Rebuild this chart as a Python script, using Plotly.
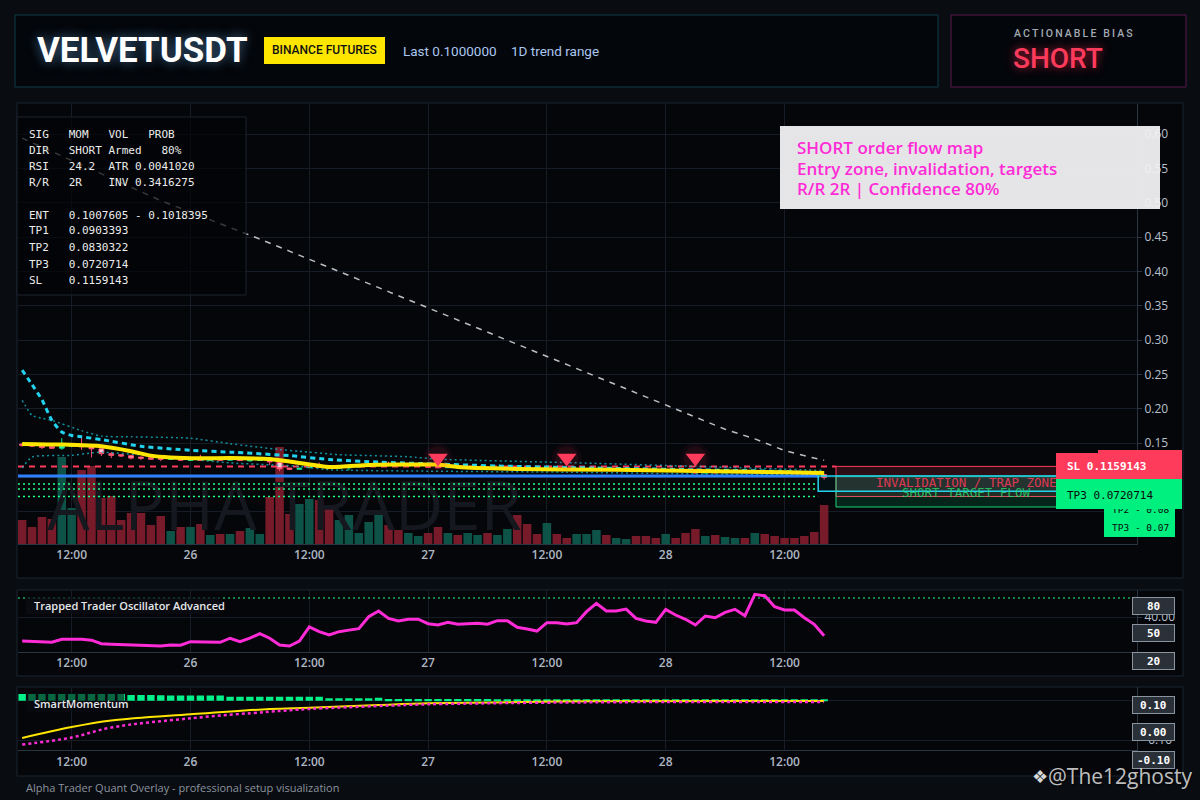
import plotly.graph_objects as go
import pandas as pd

W, H = 1200, 800
BASE = pd.Timestamp("2025-12-25 00:00")


def T(h):
    return BASE + pd.Timedelta(hours=h)


# ---------------- data ----------------
CANDLE_START = "2025-12-25 07:00"

opens = [
    0.1485, 0.1465, 0.1460, 0.1445, 0.1425, 0.1450, 0.1462, 0.1445, 0.1415, 0.1345,
    0.1330, 0.1315, 0.1295, 0.1285, 0.1280, 0.1262, 0.1272, 0.1248, 0.1262, 0.1250,
    0.1258, 0.1250, 0.1262, 0.1240, 0.1245, 0.1250, 0.1220, 0.1135, 0.1118, 0.1140,
    0.1165, 0.1150, 0.1130, 0.1138, 0.1150, 0.1165, 0.1175, 0.1195, 0.1180, 0.1165,
    0.1165, 0.1165, 0.1160, 0.1140, 0.1152, 0.1140, 0.1144, 0.1150, 0.1138, 0.1142,
    0.1150, 0.1130, 0.1120, 0.1110, 0.1125, 0.1118, 0.1110, 0.1112, 0.1115, 0.1122,
    0.1112, 0.1115, 0.1120, 0.1114, 0.1110, 0.1100, 0.1108, 0.1100, 0.1088, 0.1062,
    0.1074, 0.1064, 0.1068, 0.1075, 0.1066, 0.1074, 0.1068, 0.1064, 0.1060, 0.1056,
    0.1052, 0.1040]
highs = [
    0.1495, 0.1475, 0.1470, 0.1455, 0.1570, 0.1475, 0.1580, 0.1450, 0.1420, 0.1370,
    0.1340, 0.1330, 0.1300, 0.1290, 0.1290, 0.1280, 0.1280, 0.1265, 0.1330, 0.1262,
    0.1262, 0.1265, 0.1268, 0.1260, 0.1260, 0.1255, 0.1260, 0.1140, 0.1140, 0.1170,
    0.1215, 0.1160, 0.1150, 0.1170, 0.1170, 0.1185, 0.1196, 0.1230, 0.1185, 0.1180,
    0.1178, 0.1170, 0.1165, 0.1155, 0.1158, 0.1152, 0.1155, 0.1154, 0.1150, 0.1156,
    0.1160, 0.1135, 0.1125, 0.1130, 0.1130, 0.1122, 0.1122, 0.1124, 0.1128, 0.1126,
    0.1120, 0.1124, 0.1124, 0.1118, 0.1114, 0.1112, 0.1112, 0.1104, 0.1095, 0.1076,
    0.1078, 0.1076, 0.1078, 0.1078, 0.1078, 0.1078, 0.1072, 0.1068, 0.1063, 0.1060,
    0.1056, 0.1045]
lows = [
    0.1445, 0.1440, 0.1410, 0.1415, 0.1400, 0.1440, 0.1400, 0.1290, 0.1310, 0.1280,
    0.1295, 0.1260, 0.1250, 0.1255, 0.1235, 0.1255, 0.1240, 0.1240, 0.1245, 0.1245,
    0.1245, 0.1245, 0.1235, 0.1232, 0.1240, 0.1180, 0.1090, 0.1105, 0.1110, 0.1135,
    0.1145, 0.1120, 0.1125, 0.1100, 0.1145, 0.1160, 0.1170, 0.1170, 0.1160, 0.1160,
    0.1160, 0.1140, 0.1130, 0.1135, 0.1138, 0.1136, 0.1140, 0.1135, 0.1134, 0.1138,
    0.1095, 0.1105, 0.1108, 0.1105, 0.1110, 0.1108, 0.1106, 0.1108, 0.1110, 0.1110,
    0.1108, 0.1112, 0.1108, 0.1100, 0.1098, 0.1096, 0.1096, 0.1080, 0.1055, 0.1058,
    0.1060, 0.1060, 0.1064, 0.1064, 0.1062, 0.1062, 0.1058, 0.1055, 0.1050, 0.1046,
    0.1038, 0.0966]
closes = [
    0.1465, 0.1455, 0.1435, 0.1425, 0.1450, 0.1462, 0.1445, 0.1415, 0.1345, 0.1320,
    0.1310, 0.1280, 0.1278, 0.1265, 0.1262, 0.1272, 0.1248, 0.1258, 0.1250, 0.1258,
    0.1250, 0.1260, 0.1245, 0.1255, 0.1256, 0.1225, 0.1125, 0.1118, 0.1132, 0.1165,
    0.1150, 0.1140, 0.1145, 0.1150, 0.1165, 0.1180, 0.1192, 0.1180, 0.1168, 0.1175,
    0.1172, 0.1150, 0.1140, 0.1150, 0.1142, 0.1148, 0.1150, 0.1140, 0.1146, 0.1150,
    0.1128, 0.1115, 0.1112, 0.1125, 0.1115, 0.1112, 0.1118, 0.1120, 0.1124, 0.1114,
    0.1118, 0.1120, 0.1112, 0.1106, 0.1102, 0.1108, 0.1100, 0.1088, 0.1062, 0.1072,
    0.1066, 0.1072, 0.1075, 0.1068, 0.1074, 0.1066, 0.1062, 0.1058, 0.1054, 0.1050,
    0.1042, 0.1000]
volume_k = [
    600, 425, 675, 625, 2175, 900, 1850, 1950, 1150, 1200,
    600, 775, 775, 475, 700, 325, 425, 425, 500, 225,
    250, 250, 325, 400, 250, 1175, 2425, 750, 1000, 1125,
    1100, 875, 600, 725, 275, 550, 725, 475, 350, 275,
    200, 275, 425, 275, 225, 275, 225, 275, 225, 375,
    725, 500, 250, 525, 250, 150, 250, 250, 350, 225,
    150, 125, 200, 200, 150, 250, 150, 275, 375, 200,
    225, 175, 150, 150, 275, 250, 200, 150, 150, 200,
    300, 975]
osc_values = [
    32.2, 32.0, 31.5, 30.8, 34.1, 34.4, 34.1, 33.1, 29.2, 28.7,
    28.3, 27.8, 27.3, 27.0, 26.7, 27.8, 27.5, 31.5, 31.5, 31.5,
    30.8, 35.3, 31.5, 35.3, 40.3, 35.3, 27.8, 26.7, 32.2, 47.8,
    42.6, 38.9, 42.6, 44.3, 45.9, 59.2, 65.6, 57.4, 54.4, 56.4,
    56.4, 51.4, 50.0, 53.0, 50.8, 51.3, 51.9, 50.8, 54.8, 54.8,
    47.4, 45.6, 43.3, 52.6, 52.6, 51.1, 52.6, 64.8, 74.1, 65.6,
    65.6, 67.7, 57.4, 54.4, 53.0, 67.4, 61.1, 56.4, 50.0, 60.0,
    58.1, 64.1, 67.4, 60.3, 84.1, 82.5, 70.4, 66.7, 66.7, 58.1,
    50.8, 38.1]
mom_hist = [
    0.034, 0.034, 0.034, 0.034, 0.034, 0.034, 0.034, 0.034, 0.034, 0.034,
    0.034, 0.029, 0.029, 0.029, 0.028, 0.027, 0.027, 0.027, 0.027, 0.027,
    0.026, 0.020, 0.020, 0.020, 0.020, 0.020, 0.020, 0.020, 0.020, 0.020,
    0.020, 0.012, 0.012, 0.012, 0.012, 0.012, 0.015, 0.009, 0.009, 0.009,
    0.009, 0.009, 0.009, 0.009, 0.009, 0.009, 0.009, 0.009, 0.007, 0.007,
    0.007, 0.007, 0.007, 0.007, 0.007, 0.007, 0.007, 0.007, 0.007, 0.007,
    0.005, 0.005, 0.005, 0.005, 0.005, 0.005, 0.005, 0.005, 0.005, 0.005,
    0.005, 0.005, 0.005, 0.005, 0.005, 0.005, 0.005, 0.005, 0.005, 0.005,
    0.005, 0.005]
MOM_BASE = 0.10

ema_hours = [7, 11, 15, 18, 20, 22, 25, 28, 32, 34, 35, 38, 42, 45, 49, 51, 57, 67, 77, 84, 88]
ema_vals = [0.1487, 0.1477, 0.1452, 0.1380, 0.1316, 0.1290, 0.1277, 0.1280, 0.1268, 0.1230,
            0.1210, 0.1150, 0.1180, 0.1185, 0.1185, 0.1150, 0.1122, 0.1110, 0.1087, 0.1073, 0.1064]
mid_hours = [7, 8, 9, 10, 11, 12, 13, 15, 19, 24, 28, 34, 38, 43, 49, 55, 65, 75, 84, 88]
mid_vals = [0.256, 0.235, 0.213, 0.183, 0.166, 0.161, 0.159, 0.155, 0.1452, 0.1394,
            0.1367, 0.1316, 0.1260, 0.1222, 0.1193, 0.1165, 0.1135, 0.1110, 0.1085, 0.1060]
upper_hours = [7, 8, 9, 10, 13, 15, 18, 24, 28, 33, 35, 39, 46, 49, 62, 75, 88]
upper_vals = [0.212, 0.190, 0.186, 0.183, 0.168, 0.160, 0.159, 0.157, 0.149, 0.1404,
              0.138, 0.133, 0.130, 0.1265, 0.1215, 0.116, 0.110]
lower_hours = [7, 8, 12, 14, 15, 21, 28, 35, 38, 48, 62, 75, 88]
lower_vals = [0.1137, 0.1297, 0.1320, 0.1356, 0.1365, 0.1306, 0.1210, 0.1160, 0.1110,
              0.1090, 0.1075, 0.1050, 0.1035]
trend_hours = [7, 21, 31, 78, 81, 84, 87, 88]
trend_vals = [0.594, 0.503, 0.447, 0.170, 0.156, 0.139, 0.128, 0.125]

mom_hours = [7, 12, 16, 24, 32, 36, 43, 48, 65, 88]
mom_fast = [-0.0898, -0.034, -0.0008, 0.0308, 0.0578, 0.0644, 0.078, 0.0868, 0.097, 0.0985]
mom_slow = [-0.123, -0.0873, -0.0364, 0.0104, 0.044, 0.0578, 0.073, 0.0817, 0.0919, 0.0934]

signal_hours = [49, 62, 75]
signal_prices = [0.128, 0.128, 0.128]

ENT_LO, ENT_HI = 0.1007605, 0.1018395
TP1, TP2, TP3 = 0.0903393, 0.0830322, 0.0720714
SL = 0.1159143
ENTRY_BOX_LOW = 0.0796
TARGET_FLOW_LOW = 0.0568
OSC_UPPER = 80

tick_hours = [12, 24, 36, 48, 60, 72, 84]
tick_text = ["12:00", "26", "12:00", "27", "12:00", "28", "12:00"]

info_lines = [
    "SIG   MOM   VOL   PROB",
    "DIR   SHORT Armed   80%",
    "RSI   24.2  ATR 0.0041020",
    "R/R   2R    INV 0.3416275",
    "ENT   0.1007605 - 0.1018395",
    "TP1   0.0903393",
    "TP2   0.0830322",
    "TP3   0.0720714",
    "SL    0.1159143",
]
note_lines = ["SHORT order flow map", "Entry zone, invalidation, targets", "R/R 2R | Confidence 80%"]

# ---------------- styling ----------------
PAPER = "#090c11"
PANEL = "#04060a"
GRID = "#161d26"
AXIS = "#2a3542"
RED = "#ff3b5c"
GREEN = "#00f07f"
MONO = "DejaVu Sans Mono"

X_LEFT, X_RIGHT = 6.58, 119.6
times = pd.date_range(CANDLE_START, periods=len(opens), freq="h")
up = [c >= o for o, c in zip(opens, closes)]


def px(x):
    return x / W


def py(y):
    return 1 - y / H


shapes, annotations = [], []


def rect(x0, y0, x1, y1, line=None, fill=None, lw=1, layer="below"):
    shapes.append(dict(type="rect", xref="paper", yref="paper", x0=px(x0), x1=px(x1),
                       y0=py(y1), y1=py(y0), layer=layer,
                       line=dict(color=line or "rgba(0,0,0,0)", width=lw if line else 0),
                       fillcolor=fill or "rgba(0,0,0,0)"))


def text(x, y, s, size, color, family="Open Sans", xanchor="left", weight=400, shadow=None):
    f = dict(size=size, color=color, family=family, weight=weight)
    if shadow:
        f["shadow"] = shadow
    annotations.append(dict(xref="paper", yref="paper", x=px(x), y=py(y), text=s,
                            showarrow=False, xanchor=xanchor, yanchor="middle",
                            font=f, align="left"))


def box(x0, y0, x1, y1, fill, border=None, bw=0):
    annotations.append(dict(xref="paper", yref="paper", x=px(x0), y=py(y0), xanchor="left",
                            yanchor="top", text="\u00a0", showarrow=False,
                            width=max(1, x1 - x0 - 2 * bw), height=max(1, y1 - y0 - 2 * bw),
                            bgcolor=fill, bordercolor=border or "rgba(0,0,0,0)",
                            borderwidth=bw, borderpad=0, font=dict(size=1)))


# panels
rect(15, 15, 938, 87, "#0e3b49", "#03060a")
rect(951, 15, 1186, 87, "#5a1852", "#03060a")
rect(17, 103, 1183, 578, "#1a2430", PANEL)
rect(17, 590, 1183, 676, "#1a2430", PANEL)
rect(17, 687, 1183, 776, "#1a2430", PANEL)

fig = go.Figure()

# watermark inside price pane (on the volume axis, clipped to the pane)
fig.add_trace(go.Scatter(x=[T(33.5)], y=[760], xaxis="x", yaxis="y", mode="text",
                         text=["ALPHA TRADER"], hoverinfo="skip",
                         textfont=dict(size=67, color="#15181e", family="Open Sans")))

# volume
fig.add_trace(go.Bar(x=times, y=volume_k, xaxis="x", yaxis="y", width=3600000 * 0.86,
                     marker=dict(color=["rgba(14,92,78,0.9)" if u else "rgba(132,30,45,0.9)" for u in up],
                                 line_width=0),
                     hoverinfo="skip"))

# levels
x_full = [T(X_LEFT)]
fig.add_trace(go.Scatter(x=x_full + [T(89.2)], y=[SL, SL], xaxis="x", yaxis="y2", mode="lines",
                         line=dict(color=RED, width=2, dash="6px,5px"), hoverinfo="skip"))
fig.add_trace(go.Scatter(x=x_full + [T(87.4)], y=[ENT_HI, ENT_HI], xaxis="x", yaxis="y2",
                         mode="lines", line=dict(color="#2f80ff", width=3), hoverinfo="skip"))
for lv in (TP1, TP2, TP3):
    fig.add_trace(go.Scatter(x=x_full + [T(87.4)], y=[lv, lv], xaxis="x", yaxis="y2", mode="lines",
                             line=dict(color="#22ff88", width=1.5, dash="2px,3px"),
                             hoverinfo="skip"))

# trend line
fig.add_trace(go.Scatter(x=[T(h) for h in trend_hours], y=trend_vals, xaxis="x", yaxis="y2",
                         mode="lines", line=dict(color="rgba(235,235,235,0.8)", width=1.5,
                                                 dash="6px,6px"), hoverinfo="skip"))
# bands
for hh, vv in ((upper_hours, upper_vals), (lower_hours, lower_vals)):
    fig.add_trace(go.Scatter(x=[T(h) for h in hh], y=vv, xaxis="x", yaxis="y2", mode="lines",
                             line=dict(color="rgba(24,190,205,0.75)", width=1.5, dash="2px,3px",
                                       shape="spline", smoothing=0.5), hoverinfo="skip"))

# candles
fig.add_trace(go.Candlestick(x=times, open=opens, high=highs, low=lows, close=closes,
                             xaxis="x", yaxis="y2", whiskerwidth=0, hoverinfo="skip",
                             increasing=dict(line=dict(color="#00e68a", width=1), fillcolor="#dcfbee"),
                             decreasing=dict(line=dict(color="#ff4d6d", width=1), fillcolor="#ffd0d8")))

fig.add_trace(go.Scatter(x=[T(h) for h in mid_hours], y=mid_vals, xaxis="x", yaxis="y2",
                         mode="lines", line=dict(color="#22d3ee", width=3, dash="5px,4px",
                                                 shape="spline", smoothing=0.5), hoverinfo="skip"))
fig.add_trace(go.Scatter(x=[T(h) for h in ema_hours], y=ema_vals, xaxis="x", yaxis="y2",
                         mode="lines", line=dict(color="#ffe500", width=4, shape="spline",
                                                 smoothing=0.6), hoverinfo="skip"))

# signals
sx = [T(h) for h in signal_hours]
for s, c in ((30, "rgba(255,59,92,0.05)"), (23, "rgba(255,59,92,0.08)")):
    fig.add_trace(go.Scatter(x=sx, y=signal_prices, xaxis="x", yaxis="y2", mode="markers",
                             marker=dict(symbol="circle", size=s, color=c), hoverinfo="skip"))
fig.add_trace(go.Scatter(x=sx, y=signal_prices, xaxis="x", yaxis="y2", mode="markers",
                         marker=dict(symbol="triangle-down", size=17, color=RED, line_width=0),
                         hoverinfo="skip"))

# oscillator
fig.add_trace(go.Scatter(x=[T(X_LEFT), T(X_RIGHT)], y=[OSC_UPPER, OSC_UPPER], xaxis="x2", yaxis="y3",
                         mode="lines", line=dict(color="#22ff88", width=1, dash="2px,3px"),
                         hoverinfo="skip"))
fig.add_trace(go.Scatter(x=times, y=osc_values, xaxis="x2", yaxis="y3", mode="lines",
                         line=dict(color="#ff2bd6", width=3), hoverinfo="skip"))

# smart momentum
fig.add_trace(go.Bar(x=times, y=mom_hist, base=MOM_BASE, xaxis="x3", yaxis="y4",
                     width=3600000 * 0.75, marker=dict(color="#00f08a", line_width=0),
                     hoverinfo="skip"))
fig.add_trace(go.Scatter(x=[T(h) for h in mom_hours], y=mom_fast, xaxis="x3", yaxis="y4",
                         mode="lines", line=dict(color="#ffe500", width=2, shape="spline"),
                         hoverinfo="skip"))
fig.add_trace(go.Scatter(x=[T(h) for h in mom_hours], y=mom_slow, xaxis="x3", yaxis="y4",
                         mode="lines", line=dict(color="#ff2bd6", width=2.5, dash="3px,3px",
                                                 shape="spline"), hoverinfo="skip"))

# zones (data coordinates)
zx0, zx1 = T(89.2), T(116)
shapes.append(dict(type="rect", xref="x", yref="y2", x0=zx0, x1=zx1, y0=TP3, y1=SL, layer="above",
                   line=dict(color=RED, width=1), fillcolor="rgba(255,59,92,0.16)"))
shapes.append(dict(type="rect", xref="x", yref="y2", x0=zx0, x1=zx1, y0=TARGET_FLOW_LOW, y1=ENT_HI,
                   layer="above", line=dict(color="#1fd67a", width=1),
                   fillcolor="rgba(0,200,110,0.16)"))
shapes.append(dict(type="rect", xref="x", yref="y2", x0=T(87.4), x1=zx1, y0=ENTRY_BOX_LOW, y1=ENT_HI,
                   layer="above", line=dict(color="#22d3ee", width=1.5),
                   fillcolor="rgba(34,211,238,0.05)"))

# info box + note box (above traces)
rect(17, 117, 246, 295, "#1c232d", "rgba(3,4,7,0.72)", layer="above")
rect(780, 126, 1160, 209, None, "rgba(241,241,243,0.95)", layer="above")

# ---------------- texts ----------------
text(35, 51, "VELVETUSDT", 35, "#ffffff", "Roboto", weight=700,
     shadow="0px 0px 12px rgba(120,190,255,0.55)")
box(264, 37, 385, 64, "#ffe600")
text(324.5, 50.5, "BINANCE FUTURES", 12, "#111111", "Roboto", xanchor="center", weight=500)
text(401, 51.5, "Last 0.1000000", 13.5, "#a9c7f0", "Roboto")
text(509, 51.5, "1D trend range", 13.5, "#a9c7f0", "Roboto")
text(1012, 34, "\u2009".join("ACTIONABLE BIAS"), 10.5, "#a3a9b3", "Roboto", weight=500)
text(1011, 58, "SHORT", 28, RED, "Roboto", weight=500, shadow="0px 0px 10px rgba(255,40,80,0.7)")

for s, y in zip(info_lines, [134, 150, 166, 182.7, 215, 230.7, 247, 264, 280]):
    text(27, y, s.replace(" ", "\u00a0"), 11, "#ececec", MONO)
for s, y in zip(note_lines, [147.3, 168.3, 188.3]):
    text(795, y, s, 17, "#ff2bd6", "Open Sans", weight=600)

text(966, 482, "INVALIDATION / TRAP ZONE", 12.5, "rgba(255,59,92,0.85)", MONO, xanchor="center")
text(966, 492.5, "SHORT TARGET FLOW", 12.5, "rgba(40,210,110,0.85)", MONO, xanchor="center")

# right price labels (stacked like the reference; lower ones partly hidden)
box(1104, 486, 1175, 537, GREEN)
for s, y in (("TP1 - 0.09", 493), ("TP2 - 0.08", 510), ("TP3 - 0.07", 527.5)):
    text(1140, y, s.replace(" ", "\u00a0"), 9.5, "#0a0a0a", MONO, xanchor="center")
box(1098, 450, 1182, 480, RED)
box(1056, 453, 1182, 479, RED)
text(1065, 466, "SL\u00a0" + f"{SL:.7f}", 11, "#ffffff", MONO, weight=700)
box(1056, 479, 1182, 509, GREEN)
text(1065, 495.5, "TP3\u00a0" + f"{TP3:.7f}", 11, "#0a0a0a", MONO)

# pane value boxes
for lab, y0, y1 in (("80", 597.3, 615), ("50", 624.3, 642.3), ("20", 652.3, 670),
                    ("0.10", 695.7, 713.3), ("0.00", 722.7, 740.7), ("-0.10", 750.7, 768.3)):
    box(1132, y0, 1175, y1, "#2a3038", "#8a94a0", 1)
    text(1153.5, (y0 + y1) / 2 + 0.5, lab, 11, "#ffffff", MONO, xanchor="center", weight=700)

# pane titles
box(26, 597, 220, 614, "rgba(12,14,18,0.7)")
text(32, 605.5, "Trapped Trader Oscillator Advanced", 11, "#e5e7eb", "Open Sans", weight=600)
box(26, 693, 124, 712, "rgba(10,12,16,0.6)")
text(32, 703, "SmartMomentum", 11, "#e5e7eb", "Open Sans", weight=600)

text(23.5, 787, "Alpha Trader Quant Overlay - professional setup visualization", 11, "#8b939e",
     "Open Sans")
text(1030, 776, "\u2756", 18, "#d8d8d8", "DejaVu Sans")
text(1046, 776, "@The12ghosty", 21, "rgba(225,225,225,0.85)", "Open Sans",
     shadow="1px 1px 2px rgba(0,0,0,0.9)")

# ---------------- axes ----------------
xdom = [px(18), px(1137)]
xcommon = dict(type="date", range=[T(X_LEFT), T(X_RIGHT)], domain=xdom,
               tickvals=[T(h) for h in tick_hours], ticktext=tick_text, showgrid=True,
               gridcolor=GRID, zeroline=False, showline=True, linecolor=AXIS, ticks="",
               tickfont=dict(family="Open Sans", size=12, color="#aeb6c2", weight=600),
               rangeslider=dict(visible=False), fixedrange=True)
ycommon = dict(side="right", showgrid=True, gridcolor=GRID, zeroline=False, showline=True,
               linecolor=AXIS, ticks="outside", ticklen=4, tickcolor=AXIS,
               tickfont=dict(family="Open Sans", size=12, color="#b8c0cc"), fixedrange=True)

fig.update_layout(
    width=W, height=H, margin=dict(l=0, r=0, t=0, b=0), paper_bgcolor=PAPER,
    plot_bgcolor="rgba(0,0,0,0)", showlegend=False, barmode="overlay",
    xaxis=dict(xcommon, anchor="y"),
    xaxis2=dict(xcommon, anchor="y3"),
    xaxis3=dict(xcommon, anchor="y4"),
    yaxis=dict(domain=[py(544), py(104)], range=[0, 11000], visible=False, anchor="x",
               fixedrange=True),
    yaxis2=dict(ycommon, overlaying="y", anchor="x", range=[0.0029, 0.6437], dtick=0.05, tick0=0,
                tickformat=".2f"),
    yaxis3=dict(ycommon, domain=[py(652), py(590)], anchor="x2", range=[20, 88.9],
                tickvals=[58.9], ticktext=["40.00"]),
    yaxis4=dict(ycommon, domain=[py(750.3), py(687.3)], anchor="x3", range=[-0.1524, 0.1682],
                tickvals=[0.1, -0.1], ticktext=["0.10", "-0.10"]),
    shapes=shapes, annotations=annotations,
)

fig.write_html("out.html", config={"displayModeBar": False},
               post_script="document.body.style.margin='0';document.body.style.overflow='hidden';"
                           "document.body.style.background='#090c11';")
